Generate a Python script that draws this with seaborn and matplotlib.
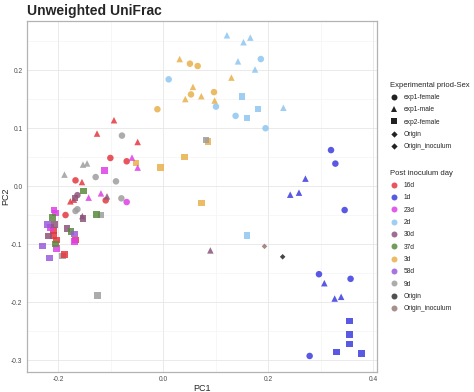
import numpy as np
import pandas as pd
import seaborn as sns
import matplotlib.pyplot as plt
from matplotlib.lines import Line2D
from matplotlib.ticker import MultipleLocator

# ---- data ----
pc1 = [
    # 2d
    0.1215, 0.153, 0.166, 0.1425, 0.175, 0.229,
    0.186, 0.0105, 0.1006, 0.138, 0.195,
    0.150, 0.1806, 0.160, 0.160,
    # 3d
    0.0314, 0.130, 0.0568, 0.0727, 0.0422, 0.098,
    0.051, 0.0657, 0.053, 0.0968, -0.011,
    0.0854, 0.041, -0.005, 0.0733, -0.052,
    # 1d
    0.3197, 0.328, 0.3457, 0.2968, 0.357, 0.279,
    0.271, 0.242, 0.2587, 0.307, 0.3267, 0.339,
    0.355, 0.355, 0.355, 0.330, 0.378,
    # 9d
    -0.0785, -0.1286, -0.0899, -0.0796, -0.167, -0.1634,
    -0.1527, -0.145, -0.188,
    0.082, -0.118, -0.1248, -0.192,
    # 16d
    -0.0937, -0.126, -0.0486, -0.1547, -0.1768, -0.170,
    -0.1006, -0.0695, -0.167, -0.1095, -0.186,
    -0.209, -0.209, -0.2034, -0.188, -0.167,
    # 23d
    -0.0594, -0.0486, -0.142, -0.1185,
    -0.0695,
    -0.112, -0.208, -0.205, -0.2149, -0.203, -0.169,
    # 30d
    -0.107, -0.154, 0.0899,
    -0.1634,
    -0.168, -0.2067, -0.2187, -0.183, -0.153,
    # 37d
    -0.152, -0.2105, -0.2053, -0.127, -0.176,
    # 58d
    -0.220, -0.230, -0.2168, -0.1686,
]
pc2 = [
    0.260, 0.248, 0.256, 0.215, 0.201, 0.135,
    0.219, 0.184, 0.137, 0.121, 0.0997,
    0.154, 0.1325, 0.117, -0.085,
    0.219, 0.187, 0.171, 0.155, 0.150, 0.1475,
    0.211, 0.207, 0.158, 0.162, 0.1325,
    0.077, 0.050, 0.032, -0.029, 0.040,
    0.062, 0.0387, -0.0414, -0.152, -0.160, -0.293,
    0.0128, -0.0149, -0.0114, -0.1675, -0.194, -0.191,
    -0.2325, -0.2556, -0.272, -0.286, -0.289,
    0.087, 0.0155, 0.0081, -0.0212, -0.043, -0.040,
    0.037, 0.039, 0.0197,
    0.079, -0.050, -0.189, -0.121,
    0.1135, 0.0905, 0.076, 0.0069, -0.0264, -0.0235,
    0.0484, 0.0427, 0.0098, -0.0247, -0.050,
    -0.0765, -0.085, -0.0933, -0.118, -0.093,
    0.049, 0.0318, -0.020, -0.0126,
    -0.0276,
    0.027, -0.041, -0.0466, -0.0719, -0.1076, -0.0955,
    -0.0178, -0.0518, -0.111,
    -0.0157,
    -0.021, -0.0667, -0.0864, -0.073, -0.056,
    -0.0086, -0.054, -0.100, -0.0494, -0.078,
    -0.066, -0.103, -0.1237, -0.083,
]
day = (["2d"] * 15 + ["3d"] * 16 + ["1d"] * 17 + ["9d"] * 13 + ["16d"] * 16
       + ["23d"] * 11 + ["30d"] * 9 + ["37d"] * 5 + ["58d"] * 4)
group = (
    ["exp1-male"] * 6 + ["exp1-female"] * 5 + ["exp2-female"] * 4
    + ["exp1-male"] * 6 + ["exp1-female"] * 5 + ["exp2-female"] * 5
    + ["exp1-female"] * 6 + ["exp1-male"] * 6 + ["exp2-female"] * 5
    + ["exp1-female"] * 6 + ["exp1-male"] * 3 + ["exp2-female"] * 4
    + ["exp1-male"] * 6 + ["exp1-female"] * 5 + ["exp2-female"] * 5
    + ["exp1-male"] * 4 + ["exp1-female"] * 1 + ["exp2-female"] * 6
    + ["exp1-male"] * 3 + ["exp1-female"] * 1 + ["exp2-female"] * 5
    + ["exp2-female"] * 5
    + ["exp2-female"] * 4
)

origin_pc1 = [0.2276, 0.193]
origin_pc2 = [-0.122, -0.104]
origin_day = ["Origin", "Origin_inoculum"]
origin_group = ["Origin", "Origin_inoculum"]

day_levels = ["16d", "1d", "23d", "2d", "30d", "37d", "3d", "58d", "9d",
              "Origin", "Origin_inoculum"]
group_levels = ["exp1-female", "exp1-male", "exp2-female", "Origin",
                "Origin_inoculum"]

palette = {
    "16d": "#E4373E", "1d": "#3C3CE0", "23d": "#DE3FE6", "2d": "#8EC6F0",
    "30d": "#8C557A", "37d": "#5A8A3C", "3d": "#E8B14A", "58d": "#9A5ADC",
    "9d": "#9E9E9E", "Origin": "#333333", "Origin_inoculum": "#9A7C78",
}
markers = {"exp1-female": "o", "exp1-male": "^", "exp2-female": "s",
           "Origin": "D", "Origin_inoculum": "D"}

df = pd.DataFrame({"PC1": pc1, "PC2": pc2, "day": day, "group": group})
df_origin = pd.DataFrame({"PC1": origin_pc1, "PC2": origin_pc2,
                          "day": origin_day, "group": origin_group})

sns.set_style("white")
plt.rcParams["font.family"] = ["Liberation Sans", "DejaVu Sans"]

fig = plt.figure(figsize=(4.74, 3.92), dpi=100)
ax = fig.add_axes([0.0563, 0.052, 0.7387, 0.895])

sns.scatterplot(data=df, x="PC1", y="PC2", hue="day", style="group",
                palette=palette, markers=markers, s=22, alpha=0.85,
                linewidth=0, legend=False, ax=ax, zorder=3)
sns.scatterplot(data=df_origin, x="PC1", y="PC2", hue="day", style="group",
                palette=palette, markers=markers, s=8, alpha=0.9,
                linewidth=0, legend=False, ax=ax, zorder=3)

ax.set_xlim(-0.26, 0.407)
ax.set_ylim(-0.320, 0.285)
ax.xaxis.set_major_locator(MultipleLocator(0.2))
ax.xaxis.set_minor_locator(MultipleLocator(0.1))
ax.yaxis.set_major_locator(MultipleLocator(0.1))
ax.yaxis.set_minor_locator(MultipleLocator(0.05))
ax.grid(which="major", color="#e6e6e6", linewidth=0.6)
ax.grid(which="minor", color="#f2f2f2", linewidth=0.4)
ax.set_axisbelow(True)
for sp in ax.spines.values():
    sp.set_color("#b3b3b3")
    sp.set_linewidth(0.9)
ax.tick_params(which="major", length=2, width=0.5, color="#b3b3b3",
               labelsize=4.8, labelcolor="#4d4d4d", pad=1)
ax.tick_params(which="minor", length=0)
ax.xaxis.set_major_formatter(plt.FuncFormatter(lambda v, p: f"{v:.1f}"))
ax.yaxis.set_major_formatter(plt.FuncFormatter(lambda v, p: f"{v:.1f}"))
ax.set_xlabel("PC1", fontsize=6.5, labelpad=1)
ax.set_ylabel("PC2", fontsize=6.5, labelpad=1)

fig.text(0.0563, 0.955, "Unweighted UniFrac", fontsize=10, fontweight="bold",
         ha="left", va="bottom")

shape_handles = [
    Line2D([0], [0], marker=markers[g], linestyle="", color="#222222",
           markersize=3.2 if g.startswith("Origin") else 4.3,
           markeredgewidth=0, label=g)
    for g in group_levels
]
leg1 = fig.legend(handles=shape_handles, title="Experimental priod-Sex",
                  loc="upper left", bbox_to_anchor=(0.822, 0.792),
                  frameon=False, fontsize=4.8, title_fontsize=5.5,
                  labelspacing=0.8, handletextpad=0.9, handlelength=1.2,
                  borderaxespad=0, borderpad=0)
leg1._legend_box.align = "left"

day_handles = [
    Line2D([0], [0], marker="o", linestyle="", color=palette[d],
           markersize=4.3, markeredgewidth=0, alpha=0.85, label=d)
    for d in day_levels
]
leg2 = fig.legend(handles=day_handles, title="Post inoculum day",
                  loc="upper left", bbox_to_anchor=(0.822, 0.567),
                  frameon=False, fontsize=4.8, title_fontsize=5.5,
                  labelspacing=0.8, handletextpad=0.9, handlelength=1.2,
                  borderaxespad=0, borderpad=0)
leg2._legend_box.align = "left"

fig.savefig("out.png", dpi=100)
